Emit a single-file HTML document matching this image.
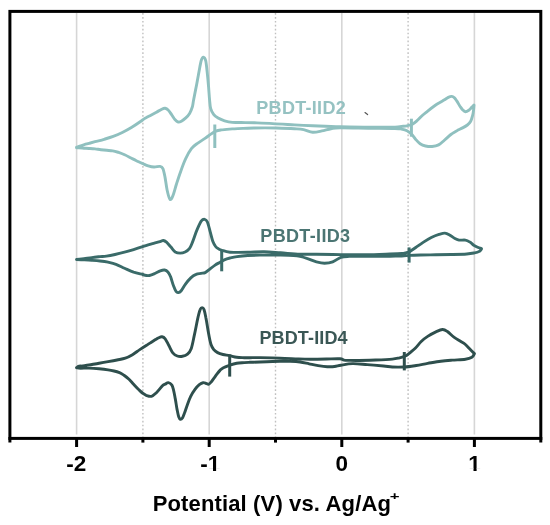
<!DOCTYPE html>
<html><head><meta charset="utf-8"><title>CV</title>
<style>html,body{margin:0;padding:0;background:#fff;} svg{display:block;}</style>
</head><body>
<svg width="550" height="525" viewBox="0 0 550 525">
<rect width="550" height="525" fill="#fff"/>
<line x1="76.6" y1="13" x2="76.6" y2="434.5" stroke="#d6d6d6" stroke-width="1.6"/><line x1="142.9" y1="13.05" x2="142.9" y2="437" stroke="#c0c0c0" stroke-width="1.4" stroke-dasharray="1.7,2.22"/><line x1="209.2" y1="13" x2="209.2" y2="434.5" stroke="#d6d6d6" stroke-width="1.6"/><line x1="275.5" y1="13.05" x2="275.5" y2="437" stroke="#c0c0c0" stroke-width="1.4" stroke-dasharray="1.7,2.22"/><line x1="341.8" y1="13" x2="341.8" y2="434.5" stroke="#d6d6d6" stroke-width="1.6"/><line x1="408.1" y1="13.05" x2="408.1" y2="437" stroke="#c0c0c0" stroke-width="1.4" stroke-dasharray="1.7,2.22"/><line x1="474.4" y1="13" x2="474.4" y2="434.5" stroke="#d6d6d6" stroke-width="1.6"/>
<g fill="none" stroke-linejoin="round" stroke-linecap="round" stroke-width="2.9">
<path d="M76.5,147.4 C76.9,147.2 77.7,146.9 79.0,146.4 C80.3,145.9 82.7,145.1 84.4,144.6 C86.1,144.1 87.2,143.9 89.0,143.4 C90.8,142.9 92.5,142.4 95.0,141.7 C97.5,141.0 101.1,140.2 104.1,139.3 C107.1,138.4 110.2,137.5 113.2,136.4 C116.2,135.3 119.3,134.0 122.3,132.5 C125.3,131.0 128.4,129.3 131.4,127.5 C134.4,125.7 138.2,123.1 140.5,121.5 C142.8,119.9 143.8,119.1 145.5,118.1 C147.2,117.0 149.1,116.2 150.9,115.2 C152.7,114.2 154.6,113.2 156.4,112.2 C158.2,111.2 160.4,109.9 161.8,109.2 C163.2,108.5 164.0,108.1 165.1,108.3 C166.2,108.5 167.3,109.2 168.4,110.3 C169.5,111.3 170.5,113.1 171.6,114.6 C172.7,116.1 173.8,118.3 174.9,119.5 C176.0,120.7 177.1,121.7 178.2,122.0 C179.3,122.3 180.1,121.9 181.4,121.2 C182.7,120.5 184.4,119.2 185.8,117.9 C187.2,116.6 188.5,115.3 189.6,113.5 C190.7,111.7 191.6,109.2 192.3,107.0 C193.0,104.8 192.9,103.5 193.6,100.0 C194.3,96.5 195.4,90.7 196.4,85.7 C197.4,80.7 198.5,74.3 199.3,70.0 C200.1,65.7 200.7,62.1 201.4,60.0 C202.1,57.9 202.6,57.0 203.3,57.1 C204.0,57.2 205.1,58.3 205.7,60.7 C206.3,63.1 206.6,67.0 207.1,71.4 C207.6,75.8 208.2,82.3 208.6,87.1 C209.0,91.9 209.2,96.4 209.6,100.0 C209.9,103.6 210.0,106.2 210.7,108.6 C211.4,111.0 212.4,112.7 213.6,114.3 C214.8,115.9 216.3,117.0 218.1,118.1 C219.9,119.2 222.2,120.1 224.6,120.8 C227.0,121.5 229.6,122.1 232.3,122.4 C235.0,122.7 237.3,122.4 241.0,122.5 C244.7,122.6 249.2,122.6 254.5,122.8 C259.8,123.0 266.0,123.2 272.7,123.6 C279.4,123.9 287.8,124.5 294.5,124.9 C301.2,125.3 305.1,125.5 312.7,125.8 C320.3,126.1 330.4,126.6 340.0,126.8 C349.6,127.0 360.8,127.2 370.0,127.2 C379.2,127.2 389.8,127.2 395.0,127.1 C400.2,127.0 399.5,126.6 401.5,126.4 C403.5,126.2 405.2,126.2 407.0,125.8 C408.8,125.4 410.8,125.0 412.4,124.2 C414.0,123.4 415.1,122.4 416.8,120.9 C418.5,119.5 420.5,117.1 422.3,115.5 C424.1,113.9 425.6,112.8 427.7,111.1 C429.8,109.4 433.0,106.9 435.0,105.5 C437.0,104.1 438.2,103.5 439.8,102.6 C441.4,101.6 443.1,100.7 444.5,99.8 C445.9,98.9 447.1,98.0 448.3,97.4 C449.5,96.8 450.7,96.3 451.7,96.4 C452.7,96.5 453.6,97.1 454.5,97.9 C455.4,98.7 456.0,99.9 456.9,101.2 C457.8,102.5 458.9,104.6 459.8,106.0 C460.8,107.4 461.7,108.8 462.6,109.8 C463.6,110.8 464.5,111.6 465.5,111.7 C466.5,111.8 467.8,110.9 468.8,110.2 C469.8,109.5 470.8,108.3 471.7,107.4 C472.6,106.5 473.6,105.4 474.0,105.0 L474.0,105.5 C473.9,106.2 473.8,108.1 473.6,109.8 C473.4,111.5 473.1,113.6 472.6,115.5 C472.1,117.4 471.6,119.6 470.7,121.2 C469.8,122.8 468.8,123.9 467.4,125.0 C466.0,126.1 464.4,127.0 462.6,127.9 C460.9,128.8 458.6,129.8 456.9,130.7 C455.1,131.6 453.3,132.8 452.1,133.6 C450.9,134.4 450.8,134.4 449.5,135.6 C448.2,136.8 445.9,138.9 444.1,140.5 C442.3,142.1 440.6,143.9 438.6,144.9 C436.6,145.9 434.3,146.3 432.1,146.5 C429.9,146.7 427.5,146.4 425.5,146.0 C423.5,145.6 421.7,144.9 420.1,143.8 C418.5,142.7 417.1,141.0 415.7,139.4 C414.2,137.8 412.8,135.4 411.4,134.0 C409.9,132.6 408.6,131.5 407.0,130.7 C405.4,129.9 403.5,129.5 401.5,129.1 C399.5,128.7 400.2,128.7 395.0,128.5 C389.8,128.3 379.2,128.3 370.0,128.2 C360.8,128.1 346.5,127.7 340.0,127.8 C333.5,127.9 334.0,128.2 331.0,128.7 C328.0,129.2 324.9,130.3 321.8,130.9 C318.8,131.5 315.7,132.4 312.7,132.2 C309.7,132.0 306.6,130.2 303.6,129.6 C300.6,129.0 299.0,129.0 294.5,128.7 C290.0,128.4 281.3,128.1 276.4,128.0 C271.5,127.9 268.7,127.9 265.0,127.9 C261.3,127.9 257.7,127.9 254.1,128.0 C250.5,128.1 246.8,128.2 243.2,128.4 C239.6,128.6 235.9,128.7 232.3,128.9 C228.7,129.2 224.1,129.5 221.4,129.9 C218.7,130.3 217.7,130.4 215.9,131.2 C214.1,131.9 212.3,133.2 210.5,134.4 C208.7,135.6 207.2,136.9 205.0,138.4 C202.8,139.9 199.4,141.9 197.1,143.6 C194.8,145.3 193.3,146.1 191.4,148.6 C189.5,151.1 187.5,154.8 185.7,158.6 C183.9,162.4 182.2,167.1 180.7,171.4 C179.1,175.7 177.7,180.2 176.4,184.3 C175.1,188.4 174.0,193.2 172.9,195.7 C171.8,198.2 171.0,200.2 170.0,199.3 C169.0,198.4 167.9,193.7 167.1,190.0 C166.3,186.3 165.7,180.7 165.0,177.1 C164.3,173.5 163.7,170.4 162.9,168.6 C162.1,166.8 161.5,166.7 160.0,166.4 C158.5,166.1 156.1,167.1 154.1,167.0 C152.1,166.9 150.2,166.4 148.2,165.8 C146.2,165.2 144.3,164.2 142.3,163.4 C140.3,162.6 138.4,161.6 136.4,160.7 C134.4,159.8 132.5,158.7 130.5,157.7 C128.5,156.7 126.6,155.7 124.6,154.8 C122.6,153.9 120.6,153.1 118.6,152.4 C116.6,151.8 114.7,151.2 112.7,150.9 C110.7,150.6 108.8,150.5 106.8,150.3 C104.8,150.1 102.9,149.9 100.9,149.7 C98.9,149.5 97.0,149.1 95.0,148.9 C93.0,148.7 90.8,148.6 89.0,148.5 C87.2,148.4 85.7,148.3 84.0,148.2 C82.3,148.1 80.2,148.0 79.0,147.9 C77.8,147.8 76.9,147.7 76.5,147.7 Z" stroke="#8fc0bf"/>
<path d="M76.5,259.4 C77.8,259.3 81.5,258.9 84.0,258.6 C86.5,258.3 89.1,257.9 91.8,257.6 C94.5,257.3 97.6,256.9 100.0,256.6 C102.4,256.4 103.9,256.5 106.4,256.1 C108.9,255.8 112.0,255.2 115.0,254.5 C118.0,253.8 121.4,253.0 124.5,252.2 C127.6,251.4 130.6,250.5 133.6,249.6 C136.6,248.7 139.4,247.8 142.7,246.7 C146.0,245.6 150.7,244.2 153.6,243.3 C156.5,242.5 158.4,242.1 160.0,241.6 C161.6,241.1 162.2,240.4 163.3,240.5 C164.4,240.6 165.2,241.1 166.5,242.2 C167.8,243.3 169.4,245.5 170.9,247.1 C172.4,248.7 173.8,251.0 175.3,252.0 C176.9,253.0 178.6,253.1 180.2,253.1 C181.8,253.1 183.6,252.7 185.1,252.0 C186.6,251.3 188.1,250.4 189.4,248.7 C190.7,247.0 191.4,244.8 192.7,241.6 C194.0,238.4 195.6,233.0 197.1,229.6 C198.6,226.2 200.1,222.6 201.4,220.9 C202.7,219.2 203.7,219.1 204.7,219.3 C205.7,219.5 206.5,219.9 207.4,222.0 C208.3,224.1 209.3,228.5 210.2,231.8 C211.1,235.1 212.0,239.2 212.9,241.6 C213.8,244.0 214.7,245.3 215.6,246.5 C216.5,247.7 217.4,248.2 218.5,248.8 C219.6,249.4 220.1,249.7 222.0,250.3 C223.9,250.9 225.7,251.9 230.0,252.2 C234.3,252.5 242.0,252.4 247.7,252.3 C253.4,252.2 258.6,251.7 264.1,251.8 C269.6,251.9 274.5,252.4 280.5,252.8 C286.5,253.2 294.0,254.0 300.0,254.2 C306.0,254.4 309.6,254.1 316.4,254.2 C323.2,254.3 332.7,254.5 340.9,254.6 C349.1,254.7 357.3,254.8 365.5,254.7 C373.7,254.6 383.9,254.2 390.0,254.0 C396.1,253.8 399.2,253.7 401.8,253.5 C404.4,253.3 404.2,253.1 405.5,252.8 C406.8,252.5 407.9,252.5 409.6,251.6 C411.3,250.7 413.5,249.1 415.8,247.5 C418.1,245.9 420.9,243.8 423.5,242.1 C426.1,240.4 428.7,238.8 431.3,237.5 C433.9,236.2 436.7,235.1 439.0,234.4 C441.3,233.7 443.1,233.0 444.9,233.1 C446.7,233.2 448.2,234.2 449.8,235.1 C451.4,235.9 452.9,237.4 454.5,238.2 C456.1,239.0 457.3,239.8 459.1,240.1 C460.9,240.4 463.5,239.8 465.3,240.1 C467.1,240.4 468.5,241.2 469.9,242.1 C471.3,242.9 472.5,244.3 473.8,245.2 C475.1,246.0 476.3,246.6 477.6,247.2 C478.9,247.8 480.9,248.4 481.5,248.6 L481.5,249.0 C481.1,249.4 480.3,250.8 479.2,251.4 C478.1,252.1 476.7,252.5 474.6,252.9 C472.5,253.3 470.7,253.7 466.8,254.0 C462.9,254.3 456.5,254.4 451.4,254.5 C446.2,254.6 441.0,254.7 435.9,254.8 C430.8,254.9 424.9,254.9 420.5,255.0 C416.1,255.1 412.7,255.2 409.6,255.4 C406.5,255.6 405.1,255.9 401.8,256.0 C398.5,256.1 396.1,256.1 390.0,256.2 C383.9,256.3 372.3,256.4 365.5,256.4 C358.7,256.4 353.2,256.2 349.1,256.4 C345.0,256.5 343.6,256.4 340.9,257.3 C338.2,258.2 335.4,260.9 332.7,261.9 C330.0,262.9 327.2,263.2 324.5,263.2 C321.8,263.2 319.1,262.5 316.4,261.8 C313.7,261.1 310.9,259.7 308.2,258.8 C305.5,257.9 302.4,256.9 300.0,256.4 C297.6,255.8 296.9,255.7 293.6,255.5 C290.4,255.3 285.4,255.2 280.5,255.1 C275.6,255.0 269.6,255.0 264.1,255.1 C258.6,255.2 252.2,255.2 247.7,255.5 C243.2,255.8 239.9,256.2 237.0,256.6 C234.1,257.0 232.1,257.5 230.0,258.0 C227.9,258.5 225.9,259.1 224.3,259.8 C222.7,260.5 222.0,261.2 220.5,262.1 C219.0,263.0 217.0,263.8 215.1,265.1 C213.2,266.4 210.7,268.4 209.0,269.7 C207.3,270.9 206.5,272.0 205.2,272.6 C203.9,273.2 202.5,273.1 201.0,273.4 C199.5,273.7 197.8,273.6 196.1,274.4 C194.4,275.1 192.6,276.2 190.8,277.9 C189.0,279.6 186.9,282.2 185.3,284.4 C183.7,286.6 182.2,289.6 181.0,291.0 C179.8,292.4 179.1,292.5 178.3,292.6 C177.5,292.7 176.9,292.7 176.1,291.5 C175.3,290.3 174.3,287.9 173.4,285.5 C172.5,283.1 171.5,279.1 170.6,276.8 C169.7,274.5 168.9,273.0 167.9,271.9 C166.9,270.8 165.9,270.2 164.6,270.0 C163.3,269.8 161.9,270.2 160.3,270.8 C158.7,271.4 156.6,272.7 154.8,273.5 C153.0,274.3 151.0,275.2 149.4,275.5 C147.8,275.8 146.1,275.5 145.0,275.3 C143.9,275.1 144.6,275.0 142.7,274.5 C140.8,274.0 136.6,273.2 133.6,272.2 C130.6,271.1 127.4,269.5 124.5,268.2 C121.6,266.9 118.8,265.3 116.0,264.3 C113.2,263.3 110.7,262.8 108.0,262.2 C105.3,261.6 102.7,261.3 100.0,261.0 C97.3,260.7 94.5,260.5 91.8,260.3 C89.1,260.1 86.5,260.0 84.0,259.9 C81.5,259.8 77.8,259.7 76.5,259.6 Z" stroke="#3a6b69"/>
<path d="M76.5,367.6 C77.4,367.4 79.9,366.8 82.0,366.3 C84.1,365.9 86.2,365.4 89.0,364.9 C91.8,364.4 95.9,363.8 99.1,363.2 C102.3,362.6 105.1,362.1 108.1,361.6 C111.1,361.1 114.1,360.6 117.0,360.0 C119.9,359.4 122.7,359.1 125.3,358.2 C127.9,357.3 130.1,356.1 132.5,354.7 C134.9,353.3 137.5,351.1 139.8,349.6 C142.1,348.1 144.3,346.7 146.2,345.5 C148.1,344.3 149.4,343.4 151.0,342.4 C152.6,341.4 154.2,340.4 155.5,339.6 C156.8,338.8 157.7,338.2 158.8,337.7 C159.9,337.2 160.9,336.6 162.0,336.8 C163.1,337.0 164.0,337.3 165.2,338.8 C166.4,340.3 167.7,343.5 169.0,345.8 C170.3,348.1 171.4,351.1 172.8,352.8 C174.2,354.5 175.7,355.4 177.3,356.0 C178.9,356.6 180.7,356.6 182.4,356.3 C184.1,356.0 186.0,355.4 187.5,354.1 C189.0,352.8 190.1,351.7 191.3,348.4 C192.5,345.1 193.4,339.3 194.5,334.4 C195.6,329.5 196.7,323.2 197.6,319.1 C198.5,315.0 199.4,311.4 200.2,309.5 C200.9,307.6 201.5,307.6 202.1,307.6 C202.7,307.6 203.4,307.8 204.0,309.5 C204.6,311.2 205.2,313.9 205.9,317.8 C206.7,321.7 207.7,328.7 208.5,333.1 C209.3,337.6 210.1,341.8 211.0,344.5 C211.9,347.2 212.7,348.2 213.8,349.6 C214.9,351.0 216.1,351.8 217.6,352.6 C219.1,353.4 221.0,354.0 223.0,354.5 C225.0,355.0 227.5,355.2 229.8,355.7 C232.1,356.2 234.3,357.0 236.7,357.3 C239.1,357.6 242.1,357.6 244.3,357.7 C246.5,357.8 247.4,357.7 250.0,357.7 C252.6,357.7 255.0,357.5 260.0,357.6 C265.0,357.7 273.7,357.9 280.0,358.1 C286.3,358.3 293.0,358.7 298.0,358.9 C303.0,359.1 305.3,359.2 310.0,359.2 C314.7,359.2 321.4,359.1 326.4,359.0 C331.4,358.9 337.1,358.6 340.0,358.8 C342.9,359.0 342.3,359.8 344.0,360.1 C345.7,360.4 347.5,360.3 350.0,360.4 C352.5,360.5 354.9,360.6 359.1,360.5 C363.4,360.4 370.0,360.2 375.5,360.0 C381.0,359.8 388.3,359.5 392.3,359.1 C396.3,358.7 397.5,358.2 399.5,357.8 C401.5,357.4 403.1,356.8 404.3,356.4 C405.5,356.0 405.8,356.0 406.8,355.3 C407.8,354.6 409.1,353.6 410.5,352.4 C411.9,351.2 413.7,349.8 415.5,348.0 C417.3,346.2 419.2,343.4 421.2,341.5 C423.2,339.6 425.2,338.0 427.7,336.4 C430.1,334.8 433.4,332.9 435.9,331.8 C438.4,330.7 440.6,329.6 442.5,329.5 C444.4,329.4 445.5,330.2 447.4,331.5 C449.3,332.8 451.7,335.6 453.9,337.2 C456.1,338.8 458.6,340.1 460.5,341.3 C462.4,342.5 463.8,343.1 465.4,344.5 C467.0,345.9 468.8,348.0 470.3,349.5 C471.8,351.0 473.7,352.9 474.4,353.6 L474.4,353.6 C474.0,354.2 473.4,356.4 471.9,357.3 C470.4,358.2 468.7,358.8 465.4,359.3 C462.1,359.8 456.4,359.8 452.3,360.1 C448.2,360.4 444.9,360.6 440.8,361.2 C436.7,361.8 431.8,362.7 427.7,363.4 C423.6,364.1 420.2,364.9 416.3,365.5 C412.4,366.1 408.3,366.8 404.3,367.0 C400.3,367.2 395.8,367.2 392.3,367.0 C388.9,366.8 387.8,366.4 383.6,366.0 C379.4,365.6 372.5,365.0 367.3,364.6 C362.1,364.2 357.0,363.5 352.6,363.6 C348.2,363.7 343.9,364.7 340.9,365.2 C337.9,365.7 336.8,366.2 334.5,366.5 C332.2,366.8 330.0,366.8 327.3,366.7 C324.6,366.6 321.2,366.1 318.2,365.6 C315.2,365.1 312.1,364.4 309.1,363.8 C306.1,363.2 303.2,362.4 300.0,362.0 C296.8,361.6 293.3,361.5 290.0,361.4 C286.7,361.3 285.0,361.2 280.0,361.3 C275.0,361.4 265.0,361.8 260.0,362.0 C255.0,362.2 252.6,362.2 250.0,362.3 C247.4,362.4 246.5,362.4 244.3,362.6 C242.1,362.8 239.1,362.9 236.7,363.3 C234.3,363.7 232.1,364.4 229.8,365.2 C227.5,366.0 224.6,367.0 223.0,367.9 C221.4,368.8 221.0,369.4 220.0,370.4 C219.0,371.4 217.9,372.8 216.9,374.1 C215.9,375.4 215.0,376.8 214.0,378.1 C213.0,379.4 212.0,381.1 211.1,382.1 C210.2,383.2 209.4,384.2 208.6,384.4 C207.8,384.6 206.9,383.6 206.0,383.3 C205.1,383.0 204.2,382.5 203.1,382.7 C202.0,382.9 200.7,383.6 199.3,384.7 C198.0,385.8 196.4,387.5 195.0,389.4 C193.6,391.3 192.0,393.7 190.7,396.3 C189.4,398.9 188.3,402.2 187.3,404.9 C186.3,407.6 185.5,410.5 184.7,412.6 C183.9,414.7 183.3,416.6 182.6,417.7 C181.9,418.8 181.1,419.5 180.4,419.4 C179.8,419.2 179.3,418.5 178.7,416.8 C178.1,415.1 177.6,412.1 177.0,409.1 C176.4,406.1 175.9,402.0 175.3,398.9 C174.7,395.8 174.2,392.6 173.6,390.3 C173.0,388.0 172.8,386.4 171.9,385.1 C171.0,383.8 169.6,382.7 168.4,382.6 C167.2,382.5 165.9,383.8 165.0,384.3 C164.1,384.8 164.1,384.1 162.7,385.5 C161.3,386.9 158.3,390.9 156.4,392.7 C154.5,394.5 153.2,395.9 151.5,396.3 C149.8,396.8 147.7,395.9 146.2,395.4 C144.7,394.8 143.8,394.0 142.5,393.0 C141.2,392.0 140.1,390.9 138.6,389.5 C137.1,388.1 135.2,386.0 133.6,384.3 C132.0,382.6 130.6,380.8 129.0,379.3 C127.4,377.8 125.6,376.4 124.0,375.3 C122.4,374.2 121.2,373.3 119.5,372.6 C117.8,371.9 115.9,371.4 114.0,371.0 C112.1,370.6 110.6,370.3 108.1,369.9 C105.6,369.5 102.3,369.1 99.1,368.8 C95.9,368.5 91.8,368.2 89.0,368.1 C86.2,368.0 84.1,368.1 82.0,368.0 C79.9,367.9 77.4,367.8 76.5,367.8 Z" stroke="#2e4f4d"/>
</g>
<ellipse cx="80.6" cy="366.9" rx="4.4" ry="2.5" fill="#2e4f4d"/>
<line x1="214.8" y1="124.5" x2="214.8" y2="148.0" stroke="#8fc0bf" stroke-width="3"/>
<line x1="411.4" y1="118.7" x2="411.4" y2="136.7" stroke="#8fc0bf" stroke-width="3"/>
<line x1="221.7" y1="251.0" x2="221.7" y2="271.3" stroke="#3a6b69" stroke-width="3"/>
<line x1="409.1" y1="247.4" x2="409.1" y2="262.6" stroke="#3a6b69" stroke-width="3"/>
<line x1="229.7" y1="354.5" x2="229.7" y2="376.6" stroke="#2e4f4d" stroke-width="3"/>
<line x1="404.3" y1="352.0" x2="404.3" y2="370.4" stroke="#2e4f4d" stroke-width="3"/>
<line x1="365" y1="112.6" x2="367.6" y2="114.6" stroke="#555" stroke-width="1.2" stroke-linecap="round"/>
<g font-family="'Liberation Sans', Arial, sans-serif" font-weight="bold" font-size="18">
<text x="256.3" y="114" letter-spacing="0.3" fill="#95c2c2">PBDT-IID2</text>
<text x="260.3" y="241.6" letter-spacing="0.35" fill="#4b7573">PBDT-IID3</text>
<text x="259.4" y="343.8" letter-spacing="0.15" fill="#3a5755">PBDT-IID4</text>
</g>
<line x1="142.9" y1="437" x2="142.9" y2="442.6" stroke="#000" stroke-width="3"/><line x1="275.5" y1="437" x2="275.5" y2="442.6" stroke="#000" stroke-width="3"/><line x1="408.1" y1="437" x2="408.1" y2="442.6" stroke="#000" stroke-width="3"/><line x1="76.6" y1="437" x2="76.6" y2="447" stroke="#000" stroke-width="3"/><line x1="209.2" y1="437" x2="209.2" y2="447" stroke="#000" stroke-width="3"/><line x1="341.8" y1="437" x2="341.8" y2="447" stroke="#000" stroke-width="3"/><line x1="474.4" y1="437" x2="474.4" y2="447" stroke="#000" stroke-width="3"/>
<rect x="9.9" y="11.4" width="530.9" height="427" fill="none" stroke="#000" stroke-width="3"/>
<line x1="9.9" y1="437" x2="9.9" y2="442.5" stroke="#000" stroke-width="3"/>
<line x1="540.8" y1="437" x2="540.8" y2="442.5" stroke="#000" stroke-width="3"/>
<g font-family="'Liberation Sans', Arial, sans-serif" font-weight="bold" font-size="22.5" fill="#000">
<text x="76.3" y="470.6" text-anchor="middle">-2</text><text x="210.2" y="470.6" text-anchor="middle">-1</text><text x="341.8" y="470.6" text-anchor="middle">0</text><text x="474.4" y="470.6" text-anchor="middle">1</text>
</g>
<g fill="#fff">
<rect x="207.8" y="468.3" width="5.2" height="3"/><rect x="216.1" y="468.3" width="4.1" height="3"/>
<rect x="469" y="468.3" width="4.5" height="3"/><rect x="476.6" y="468.3" width="4.4" height="3"/>
</g>
<text x="152.7" y="510.5" font-family="'Liberation Sans', Arial, sans-serif" font-weight="bold" font-size="22" letter-spacing="0.14" fill="#000">Potential (V) vs. Ag/Ag</text>
<text transform="translate(394.7,496.1) scale(1.2,0.82)" x="0" y="4.7" text-anchor="middle" font-family="'Liberation Sans', Arial, sans-serif" font-weight="bold" font-size="14" fill="#000">+</text>
</svg>
</body></html>
